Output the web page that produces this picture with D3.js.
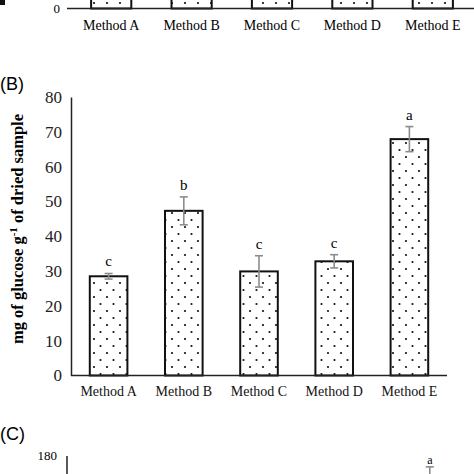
<!DOCTYPE html>
<html>
<head>
<meta charset="utf-8">
<script src="https://cdn.jsdelivr.net/npm/d3@7"></script>
<style>
  body { margin: 0; background: #fff; }
  svg { display: block; }
</style>
</head>
<body>
<div id="chart"></div>
<script>
// data
const methods = ["Method A", "Method B", "Method C", "Method D", "Method E"];
const glucoseMean = [28.5, 47.3, 29.9, 32.8, 67.9];
const glucoseErr = [0.8, 4.0, 4.5, 1.9, 3.6];
const letters = ["c", "b", "c", "c", "a"];
const yTicksB = [0, 10, 20, 30, 40, 50, 60, 70, 80];
// panel A and C are cut by the picture edge, only their edges show
const panelAMean = [40, 40, 40, 40, 40];
const panelCMean = [165];
const panelCErr = [8];
const panelCLetters = ["a"];

const width = 474, height = 474;
const svg = d3.select("#chart").append("svg")
    .attr("width", width).attr("height", height);

// dotted fill, staggered rows
const defs = svg.append("defs");
const pat = defs.append("pattern")
    .attr("id", "dots").attr("patternUnits", "userSpaceOnUse")
    .attr("width", 13).attr("height", 14);
pat.append("rect").attr("width", 13).attr("height", 14).attr("fill", "#fff");
pat.append("circle").attr("cx", 3).attr("cy", 3).attr("r", 1.1).attr("fill", "#111");
pat.append("circle").attr("cx", 9.5).attr("cy", 10).attr("r", 1.1).attr("fill", "#111");

const serif = "'Liberation Serif', 'Times New Roman', serif";
const sans = "'Liberation Sans', Arial, sans-serif";

// ---- panel A (only bottom strip visible)
const xA = d3.scaleBand().domain(methods).range([71, 473]).paddingInner(0.5).paddingOuter(0.25);
const yA = d3.scaleLinear().domain([0, 40]).range([8.5, -200]);
svg.append("g").selectAll("rect")
    .data(panelAMean).enter().append("rect")
    .attr("x", (d, i) => xA(methods[i]))
    .attr("y", d => yA(d))
    .attr("width", xA.bandwidth())
    .attr("height", d => yA(0) - yA(d))
    .attr("fill", "url(#dots)").attr("stroke", "#111").attr("stroke-width", 2);
svg.append("line").attr("x1", 67).attr("x2", 474).attr("y1", yA(0)).attr("y2", yA(0))
    .attr("stroke", "#222").attr("stroke-width", 1.5);
svg.append("text").attr("x", 60).attr("y", yA(0) + 4).attr("text-anchor", "end")
    .attr("font-family", serif).attr("font-size", 13).text("0");
svg.append("g").selectAll("text").data(methods).enter().append("text")
    .attr("x", d => xA(d) + xA.bandwidth() / 2).attr("y", 30)
    .attr("text-anchor", "middle").attr("font-family", serif).attr("font-size", 14)
    .text(d => d);
svg.append("rect").attr("x", 0).attr("y", 0).attr("width", 5).attr("height", 5).attr("fill", "#111");

// ---- panel B
const x = d3.scaleBand().domain(methods).range([71, 447]).paddingInner(0.5).paddingOuter(0.25);
const y = d3.scaleLinear().domain([0, 80]).range([375.5, 97]);

svg.append("text").attr("x", 0).attr("y", 90)
    .attr("font-family", sans).attr("font-size", 18).text("(B)");

const g = svg.append("g");
g.selectAll(".bar").data(glucoseMean).enter().append("rect")
    .attr("class", "bar")
    .attr("x", (d, i) => x(methods[i]))
    .attr("y", d => y(d))
    .attr("width", x.bandwidth())
    .attr("height", d => y(0) - y(d))
    .attr("fill", "url(#dots)").attr("stroke", "#111").attr("stroke-width", 2);

// error bars
const eb = g.selectAll(".err").data(glucoseMean).enter().append("g")
    .attr("class", "err")
    .attr("stroke", "#8c8c8c").attr("stroke-width", 1.6);
eb.append("line")
    .attr("x1", (d, i) => x(methods[i]) + x.bandwidth() / 2)
    .attr("x2", (d, i) => x(methods[i]) + x.bandwidth() / 2)
    .attr("y1", (d, i) => y(d + glucoseErr[i]))
    .attr("y2", (d, i) => y(d - glucoseErr[i]));
[1, -1].forEach(s => {
    eb.append("line")
        .attr("x1", (d, i) => x(methods[i]) + x.bandwidth() / 2 - 4)
        .attr("x2", (d, i) => x(methods[i]) + x.bandwidth() / 2 + 4)
        .attr("y1", (d, i) => y(d + s * glucoseErr[i]))
        .attr("y2", (d, i) => y(d + s * glucoseErr[i]));
});

g.selectAll(".letter").data(letters).enter().append("text")
    .attr("class", "letter")
    .attr("x", (d, i) => x(methods[i]) + x.bandwidth() / 2)
    .attr("y", (d, i) => y(glucoseMean[i] + glucoseErr[i]) - 7)
    .attr("text-anchor", "middle").attr("font-family", serif).attr("font-size", 15)
    .text(d => d);

// axes
const yAxis = g.append("g").attr("transform", "translate(71,0)")
    .call(d3.axisLeft(y).tickValues(yTicksB).tickSize(0).tickPadding(9));
yAxis.attr("font-family", serif);
yAxis.select(".domain").attr("stroke", "#222").attr("stroke-width", 1.5);
yAxis.selectAll("text").attr("font-family", serif).attr("font-size", 17).attr("fill", "#222");

const xAxis = g.append("g").attr("transform", `translate(0,${y(0)})`)
    .call(d3.axisBottom(x).tickSize(0).tickPadding(11));
xAxis.attr("font-family", serif);
xAxis.select(".domain").attr("d", "M71,0H447").attr("stroke", "#222").attr("stroke-width", 1.5);
xAxis.selectAll("text").attr("font-family", serif).attr("font-size", 14).attr("fill", "#111");

const ylab = svg.append("text")
    .attr("transform", "translate(23,229) rotate(-90)")
    .attr("text-anchor", "middle").attr("font-family", serif)
    .attr("font-size", 16.5).attr("font-weight", "bold");
ylab.append("tspan").text("mg of glucose g");
ylab.append("tspan").attr("dy", -6).attr("font-size", 11).text("-1");
ylab.append("tspan").attr("dy", 6).text(" of dried sample");

// ---- panel C (only top strip visible)
svg.append("text").attr("x", 0).attr("y", 440)
    .attr("font-family", sans).attr("font-size", 18).text("(C)");
const xC = d3.scaleBand().domain(methods).range([71, 473]).paddingInner(0.5).paddingOuter(0.25);
const yC = d3.scaleLinear().domain([0, 180]).range([735, 456]);
svg.append("line").attr("x1", 67).attr("x2", 67).attr("y1", yC(180)).attr("y2", 474)
    .attr("stroke", "#222").attr("stroke-width", 1.5);
svg.append("text").attr("x", 57).attr("y", yC(180) + 4).attr("text-anchor", "end")
    .attr("font-family", serif).attr("font-size", 13).text("180");
const cx = xC("Method E") + xC.bandwidth() / 2 - 3;
panelCMean.forEach((m, i) => {
    svg.append("line").attr("x1", cx).attr("x2", cx)
        .attr("y1", yC(m + panelCErr[i])).attr("y2", yC(m))
        .attr("stroke", "#8c8c8c").attr("stroke-width", 1.6);
    svg.append("line").attr("x1", cx - 4).attr("x2", cx + 4)
        .attr("y1", yC(m + panelCErr[i])).attr("y2", yC(m + panelCErr[i]))
        .attr("stroke", "#8c8c8c").attr("stroke-width", 1.6);
    svg.append("text").attr("x", cx).attr("y", yC(m + panelCErr[i]) - 3)
        .attr("text-anchor", "middle").attr("font-family", serif).attr("font-size", 12)
        .text(panelCLetters[i]);
});
</script>
</body>
</html>
